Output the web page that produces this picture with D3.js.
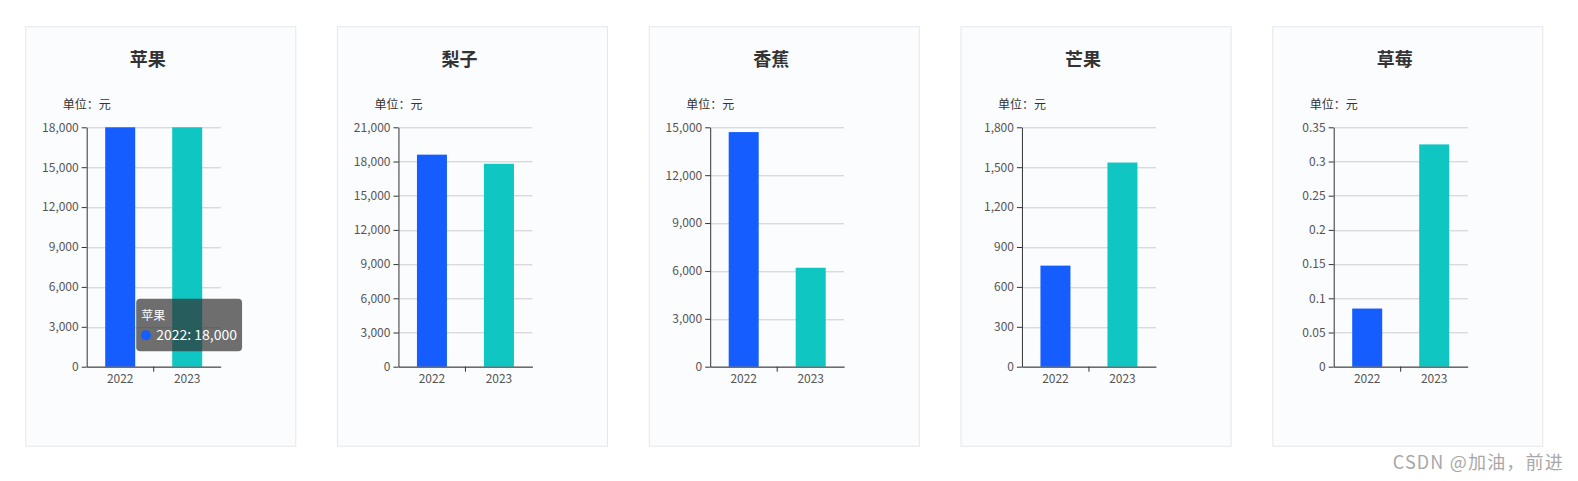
<!DOCTYPE html>
<html>
<head>
<meta charset="utf-8">
<script src="https://cdn.jsdelivr.net/npm/d3@7"></script>
<style>
  body { margin: 0; background: #fff; }
  text { font-family: "Noto Sans CJK SC", "Microsoft YaHei", sans-serif; }
</style>
</head>
<body>
<div id="chart"></div>
<script>
// data
const fruits = ["苹果", "梨子", "香蕉", "芒果", "草莓"];
const years = ["2022", "2023"];
const values2022 = [18000, 18600, 14700, 760, 0.085];
const values2023 = [18000, 17800, 6200, 1535, 0.325];
const yTicks = [
  [0, 3000, 6000, 9000, 12000, 15000, 18000],
  [0, 3000, 6000, 9000, 12000, 15000, 18000, 21000],
  [0, 3000, 6000, 9000, 12000, 15000],
  [0, 300, 600, 900, 1200, 1500, 1800],
  [0, 0.05, 0.1, 0.15, 0.2, 0.25, 0.3, 0.35]
];
const unitLabel = "单位：元";
const colors = ["#165DFF", "#0FC6C2"];
const watermark = "CSDN @加油，前进";

const width = 1578, height = 481;
const panel = { left: 25.3, step: 311.75, top: 26.3, w: 271, h: 420.4 };
const grid = { left: 61.4, top: 101, w: 134, h: 239.4 };
const barWidth = 30;

const svg = d3
  .select("#chart")
  .append("svg")
  .attr("width", width)
  .attr("height", height);

const fmt = d3.format(",");

fruits.forEach((name, i) => {
  const x0 = panel.left + i * panel.step;
  const g = svg.append("g").attr("transform", `translate(${x0},${panel.top})`);

  g.append("rect")
    .attr("x", 0.5)
    .attr("y", 0.5)
    .attr("width", panel.w - 1)
    .attr("height", panel.h - 1)
    .attr("fill", "#fbfcfe")
    .attr("stroke", "#e5e6eb");

  g.append("text")
    .attr("x", 122.5)
    .attr("y", 33.4)
    .attr("dy", "0.36em")
    .attr("text-anchor", "middle")
    .style("font-size", "18px")
    .style("font-weight", "bold")
    .style("fill", "#333")
    .text(name);

  g.append("text")
    .attr("x", grid.left)
    .attr("y", 78.7)
    .attr("dy", "0.36em")
    .attr("text-anchor", "middle")
    .style("font-size", "12px")
    .style("fill", "#333")
    .text(unitLabel);

  const plot = g.append("g").attr("transform", `translate(${grid.left},${grid.top})`);

  const x = d3.scaleBand().domain(years).range([0, grid.w]);
  const y = d3.scaleLinear().domain([0, d3.max(yTicks[i])]).range([grid.h, 0]);

  plot.append("g")
    .selectAll("line")
    .data(yTicks[i])
    .join("line")
    .attr("x1", 0)
    .attr("x2", grid.w)
    .attr("y1", (d) => Math.round(y(d)) + 0.5)
    .attr("y2", (d) => Math.round(y(d)) + 0.5)
    .attr("stroke", "#cccccc");

  const vals = [values2022[i], values2023[i]];
  plot.selectAll("rect.bar")
    .data(vals)
    .join("rect")
    .attr("class", "bar")
    .attr("x", (d, j) => x(years[j]) + x.bandwidth() / 2 - barWidth / 2)
    .attr("y", (d) => y(d))
    .attr("width", barWidth)
    .attr("height", (d) => grid.h - y(d))
    .attr("fill", (d, j) => colors[j]);

  const yAxis = plot.append("g")
    .call(
      d3.axisLeft(y)
        .tickValues(yTicks[i])
        .tickFormat(fmt)
        .tickSize(5)
        .tickPadding(3)
        .tickSizeOuter(0)
    );
  yAxis.selectAll("path, line").attr("stroke", "#333");
  yAxis.selectAll("text")
    .style("font-size", "12px")
    .style("fill", "#555")
    .style("font-family", '"Noto Sans CJK SC", sans-serif');

  const xAxis = plot.append("g")
    .attr("transform", `translate(0,${grid.h})`)
    .call(d3.axisBottom(x).tickSize(0).tickPadding(8).tickSizeOuter(0));
  xAxis.select("path").attr("stroke", "#333");
  xAxis.selectAll("text")
    .style("font-size", "12px")
    .style("fill", "#555")
    .style("font-family", '"Noto Sans CJK SC", sans-serif');

  // tick between the categories
  xAxis.selectAll("line.bound")
    .data(d3.range(1, years.length))
    .join("line")
    .attr("class", "bound")
    .attr("x1", (k) => k * x.step())
    .attr("x2", (k) => k * x.step())
    .attr("y1", 0)
    .attr("y2", 5)
    .attr("stroke", "#333");

  // hover tooltip on the first chart
  if (i === 0) {
    const tip = plot.append("g")
      .attr("transform", `translate(${x(years[0]) + x.bandwidth() / 2 + 16},171.4)`);
    const box = tip.append("rect")
      .attr("rx", 4)
      .attr("height", 52.6)
      .attr("fill", "rgba(50,50,50,0.7)");
    tip.append("text")
      .attr("x", 5)
      .attr("y", 21)
      .style("font-size", "12px")
      .style("fill", "#fff")
      .text(name);
    tip.append("circle")
      .attr("cx", 9.7)
      .attr("cy", 36.6)
      .attr("r", 5)
      .attr("fill", colors[0]);
    const vt = tip.append("text")
      .attr("x", 20)
      .attr("y", 41.4)
      .style("font-size", "14px")
      .style("fill", "#fff")
      .text(`${years[0]}: ${fmt(values2022[0])}`);
    box.attr("width", 20 + vt.node().getComputedTextLength() + 5);
  }
});

svg.append("text")
  .attr("x", 1392.7)
  .attr("y", 462.3)
  .attr("dy", "0.36em")
  .attr("textLength", 170)
  .attr("lengthAdjust", "spacing")
  .style("font-size", "18px")
  .style("fill", "#a8a8a8")
  .text(watermark);
</script>
</body>
</html>
